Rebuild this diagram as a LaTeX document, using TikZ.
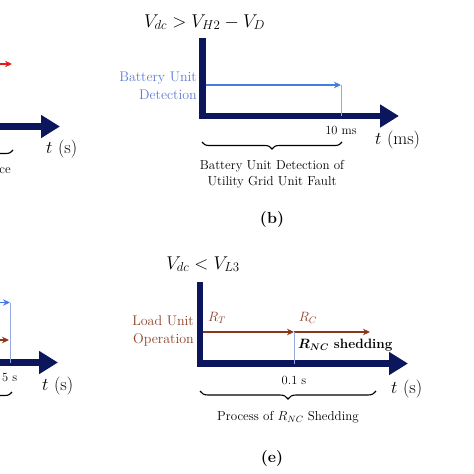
\documentclass[tikz,border=0pt]{standalone}
\usepackage{fix-cm}
\usepackage{amsmath}
\usepackage{fontspec}
\usetikzlibrary{arrows.meta,decorations.pathreplacing}

\definecolor{AxisNavy}{RGB}{12,22,92}
\definecolor{DetBlue}{RGB}{70,125,225}
\definecolor{DetText}{RGB}{95,125,210}
\definecolor{LoadBrown}{RGB}{140,55,25}
\definecolor{LoadText}{RGB}{140,65,40}
\definecolor{MarkerBlue}{RGB}{150,170,225}
\definecolor{FaultRed}{RGB}{225,30,30}

\begin{document}
\begin{tikzpicture}[
                x=1pt, y=-1pt,
                Axis/.style={draw=AxisNavy, line width=6.5pt, line join=miter, -{Triangle[length=19pt,width=22pt]}},
                Flow/.style={line width=1.8pt, -{Stealth[length=7pt,width=6.5pt]}},
                Marker/.style={draw=MarkerBlue, line width=0.6pt},
                Brace/.style={draw, line width=1.1pt, decorate, decoration={brace, mirror, amplitude=#1}},
                Brace/.default=7pt,
                Title/.style={font=\fontsize{18.5}{22}\selectfont, anchor=base, inner sep=0pt},
                UnitText/.style={font=\fontsize{14}{18}\selectfont, align=right, anchor=east, inner sep=0pt},
                TimeLabel/.style={font=\fontsize{18}{20}\selectfont, anchor=west, inner sep=0pt},
                TickLabel/.style={font=\fontsize{12.5}{15}\selectfont, inner sep=0pt},
                Caption/.style={font=\fontsize{13}{16}\selectfont, align=center, inner sep=0pt},
                PanelTag/.style={font=\bfseries\fontsize{16}{18}\selectfont, inner sep=0pt},
            ]
            \useasboundingbox (0,0) rectangle (474,474);
            \clip (0,0) rectangle (474,474);

            % panel (a), cut at the left edge
            \coordinate (aStart) at (-200,126.5);
            \coordinate (aEnd) at (60,126.5);
            \coordinate (aRedS) at (-30,64);
            \coordinate (aRedE) at (12,64);
            \draw[Axis] (aStart) -- (aEnd);
            \draw[Flow, FaultRed, line width=1.5pt] (aRedS) -- (aRedE);
            \node[TimeLabel] (aTime) at (46,149) {$t$ (s)};
            \draw[Brace] (-150,150) coordinate (aBraceL) -- (13,150) coordinate (aBraceR);
            \node[Caption, anchor=east] (aCap) at (11,171) {ce};

            % panel (b)
            \node[Title] (bTitle) at (204.5,27) {$V_{dc} > V_{H2} - V_D$};
            \coordinate (bTop) at (202.5,38);
            \coordinate (bOrig) at (202.5,116);
            \coordinate (bEnd) at (399,116);
            \draw[Axis] (bTop) -- (bOrig) -- (bEnd);
            \coordinate (bDetS) at (206,85);
            \coordinate (bDetE) at (341,85);
            \draw[Flow, DetBlue] (bDetS) -- (bDetE);
            \draw[Marker] (bDetE) -- (bDetE |- bOrig);
            \node[UnitText, text=DetText] (bUnit) at (197,86) {Battery Unit\\Detection};
            \node[TickLabel] (bTick) at (341,130) {10 ms};
            \node[TimeLabel] (bTime) at (375,140) {$t$ (ms)};
            \draw[Brace] (202,142) coordinate (bBraceL) -- (342,142) coordinate (bBraceR);
            \node[Caption] (bCap) at (272,174) {Battery Unit Detection of\\Utility Grid Unit Fault};
            \node[PanelTag] (bTag) at (272,220) {(b)};

            % panel (d), cut at the left edge
            \coordinate (dStart) at (-200,362.5);
            \coordinate (dEnd) at (58,362.5);
            \draw[Axis] (dStart) -- (dEnd);
            \coordinate (dDetS) at (-30,302.5);
            \coordinate (dDetE) at (10,302.5);
            \draw[Flow, DetBlue] (dDetS) -- (dDetE);
            \draw[Marker] (dDetE) -- (dDetE |- dEnd);
            \coordinate (dLoadS) at (-30,340);
            \coordinate (dLoadE) at (9,340);
            \draw[Flow, LoadBrown] (dLoadS) -- (dLoadE);
            \node[TickLabel, anchor=west] (dTick) at (2,377) {5 s};
            \node[TimeLabel] (dTime) at (42,386) {$t$ (s)};
            \draw[Brace] (-150,392) coordinate (dBraceL) -- (12,392) coordinate (dBraceR);

            % panel (e)
            \node[Title] (eTitle) at (203,269) {$V_{dc} < V_{L3}$};
            \coordinate (eTop) at (200,282);
            \coordinate (eOrig) at (200,363.5);
            \coordinate (eEnd) at (408,363.5);
            \draw[Axis] (eTop) -- (eOrig) -- (eEnd);
            \coordinate (eLoadS) at (203,332);
            \coordinate (eSwitch) at (294,332);
            \coordinate (eLoadE) at (370,332);
            \draw[Flow, LoadBrown] (eLoadS) -- (eSwitch);
            \draw[Flow, LoadBrown] (eSwitch) -- (eLoadE);
            \draw[Marker] (eSwitch) -- (eSwitch |- eOrig);
            \node[UnitText, text=LoadText] (eUnit) at (194,331) {Load Unit\\Operation};
            \node[TickLabel, text=LoadText, font=\fontsize{13.5}{15}\selectfont] (eRT) at (217,318) {$R_T$};
            \node[TickLabel, text=LoadText, font=\fontsize{13.5}{15}\selectfont] (eRC) at (308,318) {$R_C$};
            \node[TickLabel, anchor=west, font=\bfseries\fontsize{13.5}{16}\selectfont] (eShed) at (298,345) {$\boldsymbol{R_{NC}}$ shedding};
            \node[TickLabel] (eTick) at (294,380) {0.1 s};
            \node[TimeLabel] (eTime) at (391,389) {$t$ (s)};
            \draw[Brace=8pt] (200,391) coordinate (eBraceL) -- (376,391) coordinate (eBraceR);
            \node[Caption] (eCap) at (288,417) {Process of $R_{NC}$ Shedding};
            \node[PanelTag] (eTag) at (272,459) {(e)};
        \end{tikzpicture}
\end{document}
